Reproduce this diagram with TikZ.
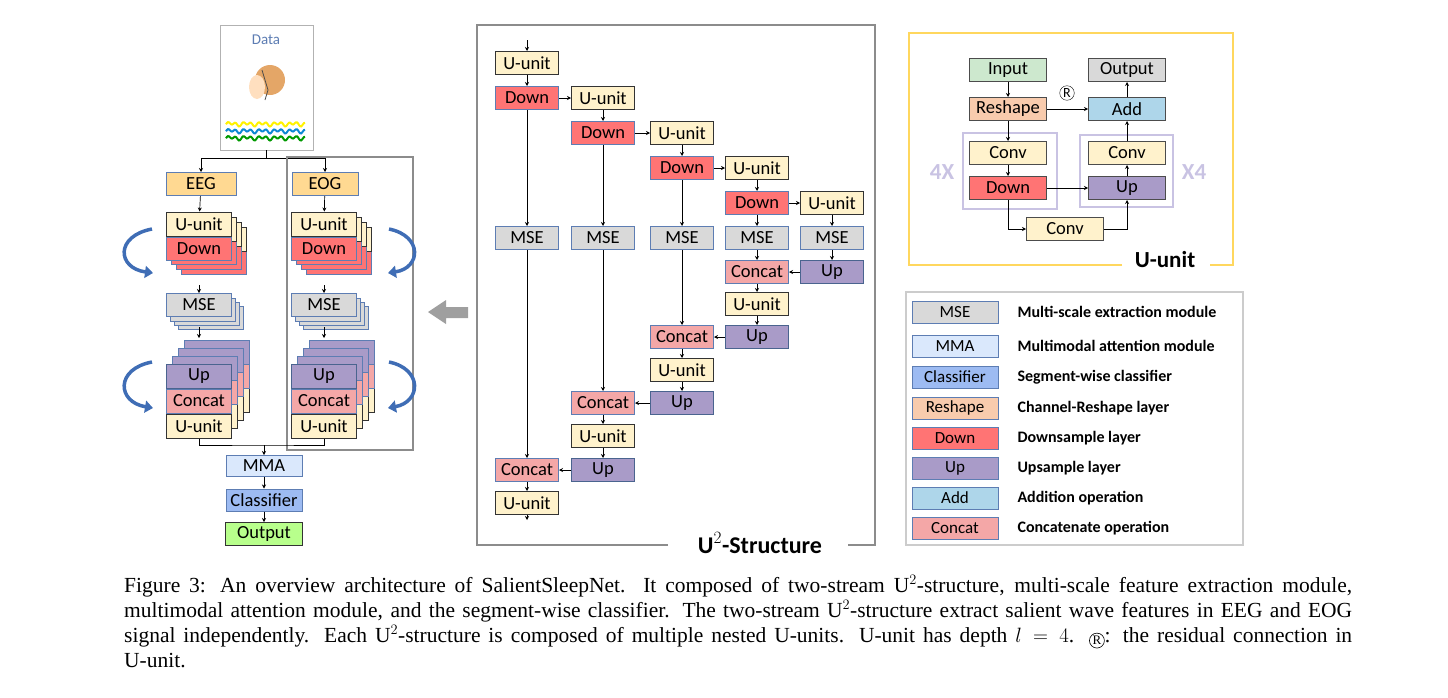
\documentclass[tikz,border=0pt]{standalone}
\usepackage{fontspec}
\setmainfont{Liberation Serif}
\newfontfamily\boxfont{Carlito}
\usetikzlibrary{positioning,arrows.meta}
\definecolor{uunitc}{HTML}{FFF2CC}
\definecolor{downc}{HTML}{FF7474}
\definecolor{msec}{HTML}{D9D9D9}
\definecolor{concatc}{HTML}{F4A7A7}
\definecolor{upc}{HTML}{A99BC8}
\definecolor{eegc}{HTML}{FFD992}
\definecolor{mmac}{HTML}{DAE8FC}
\definecolor{clsc}{HTML}{9DBBF2}
\definecolor{outc}{HTML}{B8FF8C}
\definecolor{inc}{HTML}{CDE8CE}
\definecolor{reshc}{HTML}{F8CBAD}
\definecolor{addc}{HTML}{AED6EA}
\definecolor{edgeblue}{HTML}{5D7DB3}
\definecolor{lav}{HTML}{C9C3E3}
\definecolor{curvc}{HTML}{3F6DB5}
\definecolor{goldc}{HTML}{FFD75E}
\newcommand{\rmark}{\tikz[baseline=-0.7ex]\node[circle,draw,line width=0.6pt,inner sep=1pt,font=\fontsize{13}{13}\selectfont]{R};}
\tikzset{
  box/.style={draw=edgeblue, line width=1pt, minimum width=63pt, minimum height=23pt,
    inner sep=0pt, font=\boxfont\fontsize{18.5}{18.5}\selectfont},
  uu/.style={box, fill=uunitc, draw=black!80},
  dn/.style={box, fill=downc},
  ms/.style={box, fill=msec},
  cc/.style={box, fill=concatc},
  up/.style={box, fill=upc, draw=edgeblue!80!black},
  ar/.style={-{Stealth[length=4pt,width=4pt]}, line width=0.7pt},
  curv/.style={line width=3.5pt, curvc, -{Triangle[length=8pt,width=12pt]}},
}
\begin{document}
\begin{tikzpicture}[x=1pt,y=-1pt]
\useasboundingbox (0,0) rectangle (1448,697);

% ---- left: two-stream overview
\draw[gray!60, line width=1pt] (220,25) rectangle (313,150);
\node[font=\boxfont\fontsize{15}{15}\selectfont, text=edgeblue] (data) at (266,40) {Data};
\fill[brown!60!orange!70] (270,80) circle (15);
\fill[orange!25!white] (257,87) ellipse (8 and 12);
\draw[black!70, line width=0.8pt] (262,70) -- (268,90) -- (265,100);
\foreach \yy/\cl in {124/yellow, 131/cyan!70!blue, 138/green!60!black}
  \draw[\cl, line width=2pt] plot[domain=226:305, samples=80] (\x, {\yy+1.5*sin(\x*47)+sin(\x*23)});
\coordinate (split) at (266,158);
\draw[line width=0.7pt] (266,150) -- (split);

\node[box, fill=eegc, minimum width=70pt] (eeg) at (201,184) {EEG};
\node[box, fill=eegc, minimum width=66pt] (eog) at (325,184) {EOG};
\draw[ar] (split) -| (eeg);
\draw[ar] (split) -| (eog);

\draw[gray!90, line width=2.5pt] (287,157) rectangle (413,450);

\foreach \cx/\nm in {199/l, 324/r}{
  % down stack
  \foreach \k in {3,2,1}{
    \draw[fill=downc, draw=edgeblue] (\cx-33+5*\k,236+5*\k) rectangle (\cx+32+5*\k,259+5*\k);
    \draw[fill=uunitc, draw=black!80] (\cx-33+5*\k,212+5*\k) rectangle (\cx+32+5*\k,236+5*\k);
  }
  \node[uu, minimum width=65pt, minimum height=24pt] (uu\nm) at (\cx,224) {U-unit};
  \node[dn, minimum width=65pt, below=0pt of uu\nm] (dn\nm) {Down};
  % mse stack
  \foreach \k in {3,2,1}
    \draw[fill=msec, draw=edgeblue] (\cx-33+4*\k,294+4*\k) rectangle (\cx+32+4*\k,317+4*\k);
  \node[ms, minimum width=65pt] (ms\nm) at (\cx,305) {MSE};
  % up stack
  \foreach \k in {3,2,1}{
    \draw[fill=uunitc, draw=black!80] (\cx-33+6*\k,412-8*\k) rectangle (\cx+32+6*\k,436-8*\k);
    \draw[fill=concatc, draw=edgeblue] (\cx-33+6*\k,388-8*\k) rectangle (\cx+32+6*\k,412-8*\k);
    \draw[fill=upc, draw=edgeblue] (\cx-33+6*\k,364-8*\k) rectangle (\cx+32+6*\k,388-8*\k);
  }
  \node[up, minimum width=65pt, minimum height=24pt] (up\nm) at (\cx,376) {Up};
  \node[cc, minimum width=65pt, minimum height=24pt, below=0pt of up\nm] (cc\nm) {Concat};
  \node[uu, minimum width=65pt, minimum height=24pt, below=0pt of cc\nm] (uo\nm) {U-unit};
  \draw[ar] (\cx,285) -- (\cx,293);
  \draw[ar] (\cx,327) -- (\cx,338);
}
\draw[ar] (eeg) -- (uul);
\draw[ar] (eog) -- (uur);

\draw[curv] (152,229) .. controls (115,236) and (117,268) .. (153,273);
\draw[curv] (152,362) .. controls (115,369) and (117,402) .. (153,408);
\draw[curv] (389,229) .. controls (423,236) and (421,268) .. (388,273);
\draw[curv] (389,362) .. controls (423,369) and (421,402) .. (388,408);

\node[box, fill=mmac, minimum width=76pt, minimum height=21pt] (mma) at (264,466) {MMA};
\node[box, fill=clsc, minimum width=76pt, minimum height=22pt] (cls) at (264,500) {Classifier};
\node[box, fill=outc, draw=black!80, minimum width=77pt, minimum height=23pt] (out) at (264,534) {Output};
\coordinate (merge) at (264,445);
\draw[line width=0.7pt] (uol) |- (merge) -| (uor);
\draw[ar] (merge) -- (mma);
\draw[ar] (mma) -- (cls);
\draw[ar] (cls) -- (out);

\fill[gray!75] (428,312) -- (446,300) -- (446,307) -- (468,307) -- (468,318) -- (446,318) -- (446,324) -- cycle;

% ---- middle: U^2-structure
\draw[gray!90, line width=2.5pt] (668,545) -| (477,25) -| (875,545) -- (848,545);
\node[font=\boxfont\bfseries\fontsize{24}{24}\selectfont] (u2) at (760,543) {U$^2$-Structure};

\node[uu] (a1) at (527,63) {U-unit};
\node[dn] (d1) at (527,98) {Down};
\node[uu] (a2) at (603,98) {U-unit};
\node[dn] (d2) at (603,133) {Down};
\node[uu] (a3) at (682,133) {U-unit};
\node[dn] (d3) at (682,168) {Down};
\node[uu] (a4) at (757,168) {U-unit};
\node[dn] (d4) at (757,203) {Down};
\node[uu] (a5) at (832,203) {U-unit};
\foreach \i/\x in {1/527,2/603,3/682,4/757,5/832}
  \node[ms] (m\i) at (\x,238) {MSE};
\node[up] (p5) at (832,272) {Up};
\node[cc] (c4) at (757,272) {Concat};
\node[uu] (b4) at (757,304) {U-unit};
\node[up] (p4) at (757,337) {Up};
\node[cc] (c3) at (682,337) {Concat};
\node[uu] (b3) at (682,370) {U-unit};
\node[up] (p3) at (682,403) {Up};
\node[cc] (c2) at (603,403) {Concat};
\node[uu] (b2) at (603,436) {U-unit};
\node[up] (p2) at (603,470) {Up};
\node[cc] (c1) at (527,470) {Concat};
\node[uu] (b1) at (527,503) {U-unit};
\coordinate (tin) at (527,40);
\coordinate (tout) at (527,520);
\draw[ar] (tin) -- (a1);
\draw[ar] (b1) -- (tout);
\foreach \i/\j in {1/2,2/3,3/4,4/5}{
  \draw[ar] (a\i) -- (d\i);
  \draw[ar] (d\i) -- (a\j);
  \draw[ar] (p\j) -- (c\i);
}
\draw[ar] (d1) -- (m1);
\draw[ar] (d2) -- (m2);
\draw[ar] (d3) -- (m3);
\draw[ar] (d4) -- (m4);
\draw[ar] (a5) -- (m5);
\draw[ar] (m5) -- (p5);
\foreach \i in {1,2,3,4}{
  \draw[ar] (m\i) -- (c\i);
  \draw[ar] (c\i) -- (b\i);
}
\draw[ar] (b4) -- (p4);
\draw[ar] (b3) -- (p3);
\draw[ar] (b2) -- (p2);

% ---- right top: U-unit detail
\draw[goldc, line width=2.5pt] (1122,265) -| (909,33) -| (1233,265) -- (1210,265);
\node[font=\boxfont\bfseries\fontsize{23}{23}\selectfont] (ulab) at (1165,260) {U-unit};
\draw[lav, line width=2pt] (963,133) rectangle (1057,209);
\draw[lav, line width=2pt] (1080,135) rectangle (1173,207);
\node[font=\boxfont\bfseries\fontsize{23}{23}\selectfont, text=lav] (fx) at (942,172) {4X};
\node[font=\boxfont\bfseries\fontsize{23}{23}\selectfont, text=lav] (xf) at (1194,172) {X4};
\tikzset{ubx/.style={box, minimum width=77pt, minimum height=23pt}}
\node[ubx, fill=inc, draw=black!70] (uin) at (1008,70) {Input};
\node[ubx, fill=msec, draw=black!70] (uout) at (1127,70) {Output};
\node[ubx, fill=reshc, draw=black!70] (ures) at (1008,109) {Reshape};
\node[ubx, fill=addc, draw=black!70] (uadd) at (1127,109) {Add};
\node[ubx, fill=uunitc, draw=black!70] (uc1) at (1008,153) {Conv};
\node[ubx, fill=downc, draw=black!70] (udn) at (1008,188) {Down};
\node[ubx, fill=uunitc, draw=black!70] (uc2) at (1127,153) {Conv};
\node[ubx, fill=upc, draw=black!70] (uup) at (1127,188) {Up};
\node[ubx, fill=uunitc, draw=black!70] (uc3) at (1065,229) {Conv};
\node[circle, draw, inner sep=1pt, font=\boxfont\fontsize{14}{14}\selectfont] (res) at (1067,93) {R};
\draw[ar] (uin) -- (ures);
\draw[ar] (ures) -- (uc1);
\draw[ar] (uc1) -- (udn);
\draw[ar] (udn) -- (uup);
\draw[ar] (uup) -- (uc2);
\draw[ar] (uc2) -- (uadd);
\draw[ar] (uadd) -- (uout);
\draw[ar] (ures) -- (uadd);
\draw[ar] (udn) |- (uc3);
\draw[ar] (uc3) -| (uup);

% ---- legend
\draw[gray!40, line width=2pt] (906,292) rectangle (1243,545);
\foreach \t/\c/\d/\yy in {MSE/msec/Multi-scale extraction module/312,
  MMA/mmac/Multimodal attention module/346,
  Classifier/clsc/Segment-wise classifier/377,
  Reshape/reshc/Channel-Reshape layer/408,
  Down/downc/Downsample layer/438,
  Up/upc/Upsample layer/468,
  Add/addc/Addition operation/498,
  Concat/concatc/Concatenate operation/528}{
  \node[box, fill=\c, minimum width=86pt, minimum height=22pt, font=\boxfont\fontsize{17}{17}\selectfont] (lg\t) at (955,\yy) {\t};
  \node[anchor=west, font=\boxfont\bfseries\fontsize{16}{16}\selectfont] (ld\t) at (1014,\yy) {\d};
}

% ---- caption
\node[anchor=north west, text width=1228pt, align=justify, inner sep=0pt,
  font=\fontsize{21.5}{25}\selectfont] (cap) at (124,575)
  {Figure 3: An overview architecture of SalientSleepNet. It composed of two-stream U$^2$-structure, multi-scale feature extraction module,\linebreak
  multimodal attention module, and the segment-wise classifier. The two-stream U$^2$-structure extract salient wave features in EEG and EOG\linebreak
  signal independently. Each U$^2$-structure is composed of multiple nested U-units. U-unit has depth $l=4$. \rmark: the residual connection in\linebreak
  U-unit.};
\end{tikzpicture}
\end{document}
